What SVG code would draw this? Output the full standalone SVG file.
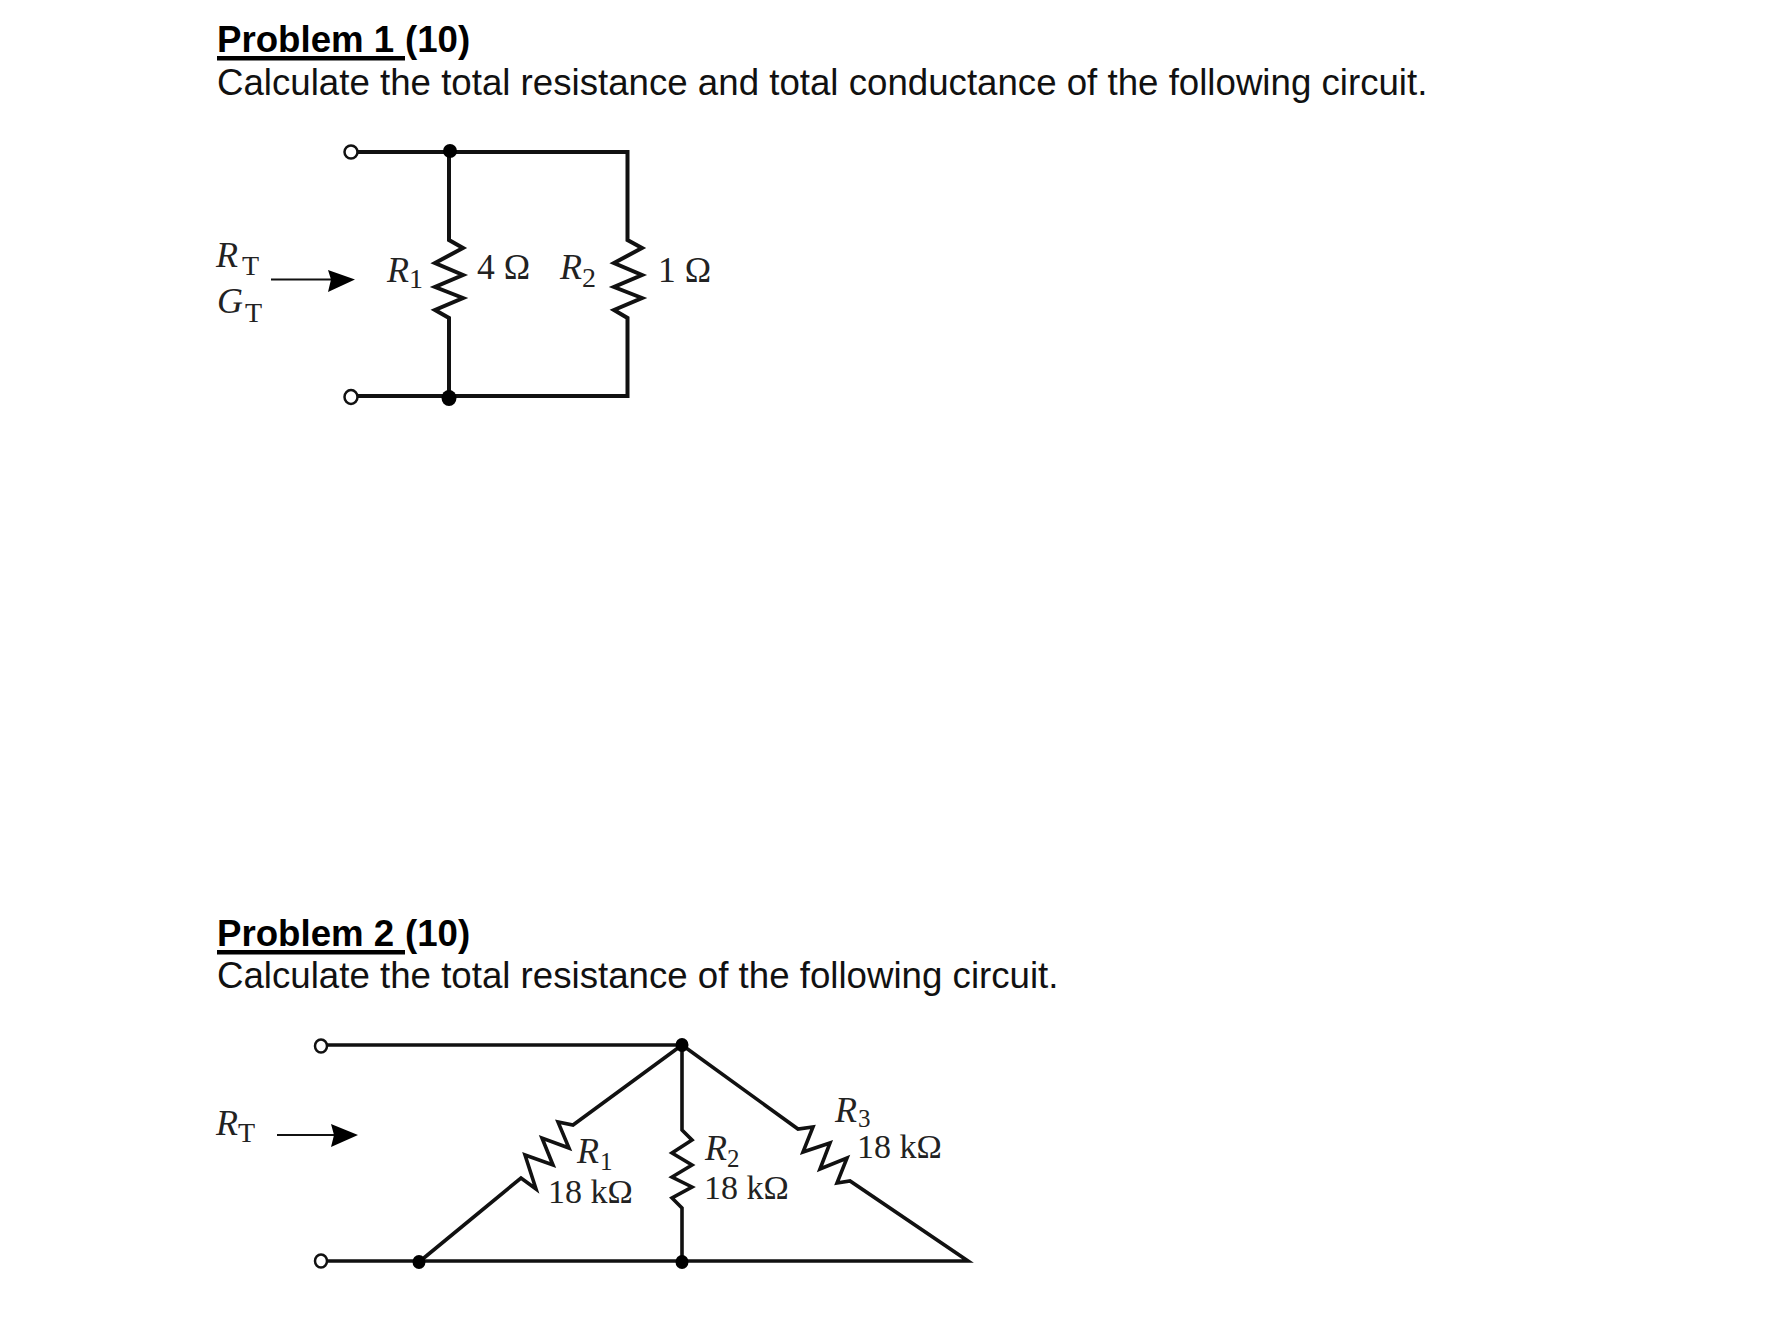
<svg xmlns="http://www.w3.org/2000/svg" width="1789" height="1327" viewBox="0 0 1789 1327">
<style>
.h{font:bold 36.65px "Liberation Sans",Arial,sans-serif;fill:#000}
.b{font:36.67px "Liberation Sans",Arial,sans-serif;fill:#111}
.t{font:35.5px "Liberation Serif","Times New Roman",serif;fill:#222}
.k{font:34px "Liberation Serif","Times New Roman",serif;fill:#222}
.i{font:italic 36px "Liberation Serif","Times New Roman",serif;fill:#222}
.s{font:28px "Liberation Serif","Times New Roman",serif;fill:#222}
.u{font:25px "Liberation Serif","Times New Roman",serif;fill:#222}
.w{fill:none;stroke:#111;stroke-width:4;stroke-linejoin:miter}
.x{fill:none;stroke:#111;stroke-width:3.6;stroke-linejoin:miter}
.c{fill:#fff;stroke:#111;stroke-width:2.5}
.d{fill:#000}
.a{fill:none;stroke:#111;stroke-width:2.2}
</style>
<rect width="1789" height="1327" fill="#fff"/>
<g id="problem1-text">
<text class="h" x="217" y="52">Problem 1 </text><text class="h" x="405" y="52">(10)</text>
<rect x="217" y="56" width="188" height="4.5" fill="#000"/>
<text class="b" x="217" y="94.5">Calculate the total resistance and total conductance of the following circuit.</text>
</g>
<g id="connectors-1">
<path class="w" d="M357 152H627.5V240L642 248L614 263L642 275L614 287L642 298L614 310L627.5 318V396H357"/>
<path class="w" d="M449 152V240L463 248L435 263L463 275L435 287L463 298L435 310L449 318V396"/>
<path class="a" d="M271 279.5H335"/>
<path class="d" d="M355 279.5L328 270L331 279.5L328 292Z"/>
</g>
<g id="t1a"><ellipse class="c" cx="351" cy="152" rx="6.5" ry="6.5"/></g>
<g id="t1b"><ellipse class="c" cx="351" cy="397" rx="6.5" ry="7"/></g>
<g id="j1a"><ellipse class="d" cx="450" cy="151" rx="7" ry="7"/></g>
<g id="j1b"><ellipse class="d" cx="449" cy="398" rx="7.5" ry="8"/></g>
<g id="labels-1">
<text class="i" x="216" y="267">R</text><text class="s" x="242" y="275">T</text>
<text class="i" x="217" y="313">G</text><text class="s" x="245" y="322">T</text>
<text class="i" x="387" y="282">R</text><text class="s" x="409" y="288">1</text>
<text class="t" x="477" y="279">4 Ω</text>
<text class="i" x="560" y="279">R</text><text class="s" x="582" y="287">2</text>
<text class="t" x="658" y="282">1 Ω</text>
</g>
<g id="problem2-text">
<text class="h" x="217" y="946">Problem 2 </text><text class="h" x="405" y="946">(10)</text>
<rect x="217" y="950" width="188" height="4.5" fill="#000"/>
<text class="b" x="217" y="988">Calculate the total resistance of the following circuit.</text>
</g>
<g id="connectors-2">
<path class="x" d="M326 1045H682V1130L692 1140L672 1153L692 1165L672 1177L692 1187L672 1198L682 1208V1262"/>
<path class="x" d="M326 1261H968L850 1181L837 1183L847 1158L820 1169L830 1143L803 1152L813 1127L798 1129L682 1045"/>
<path class="x" d="M682 1045L573 1125L558 1122L569 1148L542 1138L553 1165L525 1155L536 1189L521 1178L419 1262"/>
<path class="a" d="M277 1135H340"/>
<path class="d" d="M358 1135L331 1124L334 1135L331 1147Z"/>
</g>
<g id="t2a"><ellipse class="c" cx="321" cy="1046" rx="6" ry="6.5"/></g>
<g id="t2b"><ellipse class="c" cx="321" cy="1261" rx="6" ry="6.5"/></g>
<g id="j2a"><ellipse class="d" cx="682" cy="1045" rx="6.5" ry="7"/></g>
<g id="j2b"><ellipse class="d" cx="419" cy="1262" rx="6.5" ry="7"/></g>
<g id="j2c"><ellipse class="d" cx="682" cy="1262" rx="6.5" ry="7"/></g>
<g id="labels-2">
<text class="i" x="216" y="1135">R</text><text class="s" x="238" y="1142">T</text>
<text class="i" x="577" y="1163">R</text><text class="u" x="600" y="1170">1</text>
<text class="k" x="548" y="1203">18 kΩ</text>
<text class="i" x="705" y="1160">R</text><text class="u" x="727" y="1167">2</text>
<text class="k" x="704" y="1199">18 kΩ</text>
<text class="i" x="835" y="1122">R</text><text class="u" x="858" y="1127">3</text>
<text class="k" x="857" y="1158">18 kΩ</text>
</g>
</svg>
